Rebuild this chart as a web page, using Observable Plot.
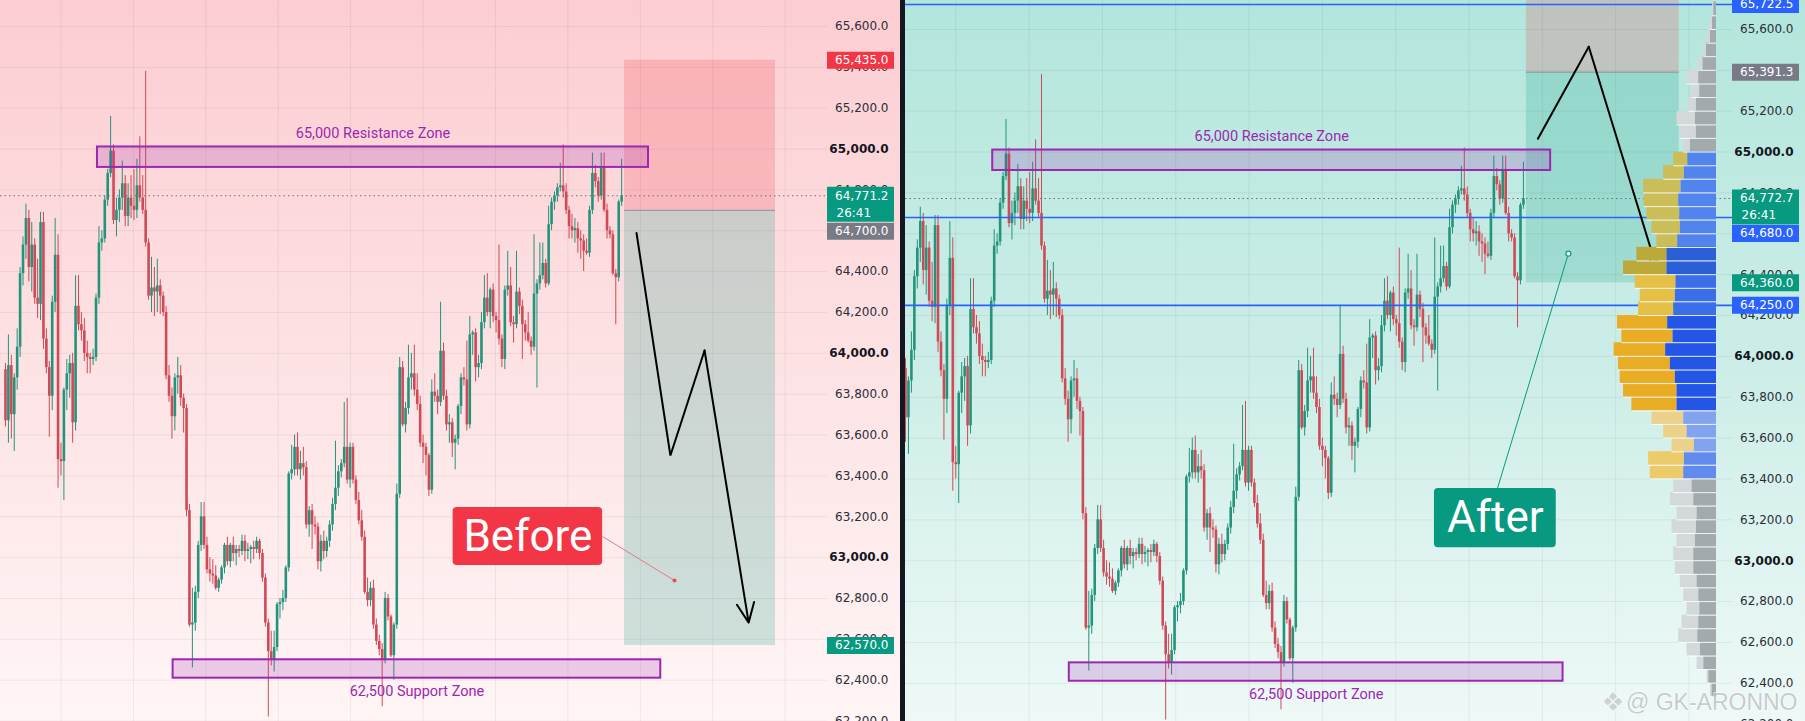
<!DOCTYPE html>
<html><head><meta charset="utf-8">
<script src="https://cdn.jsdelivr.net/npm/d3@7"></script>
<script src="https://cdn.jsdelivr.net/npm/@observablehq/plot@0.6"></script>
<style>
html,body{margin:0;padding:0;background:#fff;overflow:hidden;}
#wrap{display:flex;width:1805px;height:721px;overflow:hidden;}
.panel{position:relative;width:900px;height:721px;overflow:hidden;}
.divider{width:5px;height:721px;background:#131722;}
.panel svg{position:absolute;left:0;top:0;}
</style></head><body>
<div id="wrap"><div class="panel" id="left"></div><div class="divider"></div><div class="panel" id="right"></div></div>
<script>
// ---------- DATA ----------
// candles: [open, high, low, close], one per bar (same series shown in both panels)
const ohlc = [
[63920,63950,63640,63670],[63670,64090,63560,63940],[63940,63990,63580,63700],[63700,63900,63520,63880],
[63880,64120,63820,64030],[64030,64420,63980,64390],[64390,64570,64330,64530],[64530,64730,64460,64660],
[64660,64700,64350,64420],[64420,64640,64300,64530],[64530,64560,64240,64270],[64270,64460,64170,64240],
[64240,64690,64160,64640],[64640,64690,64020,64070],[64070,64120,63900,63930],[63930,63960,63590,63790],
[63790,64280,63720,64250],[64250,64660,64200,64480],[64480,64580,63340,63480],[63480,63560,63400,63470],
[63470,63830,63280,63820],[63820,63970,63720,63900],[63900,63990,63780,63950],[63950,64000,63560,63660],
[63660,64380,63620,64230],[64230,64380,64110,64140],[64140,64200,64060,64110],[64110,64170,63960,64000],
[64000,64060,63900,63980],[63980,64000,63900,63970],[63970,64020,63940,63980],[63980,64290,63960,64270],
[64270,64620,64240,64540],[64540,64600,64500,64560],[64560,64770,64540,64750],[64750,64900,64720,64880],
[64880,65160,64860,64990],[64990,65020,64630,64650],[64650,64760,64570,64700],[64700,64800,64640,64760],
[64760,64940,64700,64830],[64830,64870,64620,64670],[64670,64830,64620,64760],[64760,64870,64660,64720],
[64720,64900,64650,64700],[64700,64950,64660,64820],[64820,65060,64740,64760],[64760,64870,64680,64700],
[64700,65380,64520,64540],[64540,64560,64260,64280],
[64280,64470,64200,64320],[64320,64420,64180,64300],[64300,64460,64200,64330],[64330,64360,64190,64280],
[64280,64300,64180,64200],[64200,64230,63870,63890],[63890,63940,63760,63790],[63790,63830,63580,63690],
[63690,63900,63620,63880],[63880,63980,63800,63890],[63890,63940,63740,63780],[63780,63800,63610,63730],
[63730,63750,63200,63230],[63230,63260,62660,62670],[62670,62850,62460,62680],[62680,62860,62640,62830],
[62830,63080,62800,63060],[63060,63270,63030,63200],[63200,63270,63040,63060],[63060,63100,62920,62940],
[62940,63000,62880,62920],[62920,62990,62870,62910],[62910,62960,62840,62850],[62850,62900,62830,62890],
[62890,62960,62870,62950],[62950,63070,62920,63060],[63060,63100,62960,62980],[62980,63070,62950,63060],
[63060,63100,62980,63020],[63020,63060,62960,63040],[63040,63060,63000,63030],[63030,63110,63010,63080],
[63080,63110,62980,63030],[63030,63070,62990,63040],[63040,63060,62970,63050],[63050,63080,62990,63040],
[63040,63100,63020,63080],[63080,63090,62990,63020],[63020,63040,62880,62900],[62900,62920,62660,62680],
[62680,62700,62220,62540],[62540,62640,62470,62500],[62500,62640,62440,62560],[62560,62780,62540,62770],
[62770,62800,62700,62780],[62780,62840,62740,62800],[62800,62960,62780,62950],[62950,63420,62930,63410],
[63410,63550,63380,63430],[63430,63600,63400,63540],
[63540,63610,63400,63430],[63430,63520,63380,63460],[63460,63540,63400,63440],[63440,63470,63140,63160],
[63160,63250,63100,63230],[63230,63260,63040,63160],[63160,63200,63110,63150],[63150,63170,62940,62980],
[62980,63110,62930,63080],[63080,63130,62990,63030],[63030,63100,63000,63080],[63080,63180,63050,63160],
[63160,63290,63130,63260],[63260,63570,63230,63340],[63340,63450,63300,63420],[63420,63480,63390,63460],
[63460,63760,63440,63540],[63540,63780,63360,63380],[63380,63560,63340,63540],[63540,63560,63360,63380],
[63380,63400,63260,63280],[63280,63320,63160,63180],[63180,63230,63080,63100],[63100,63130,62820,62830],
[62830,62900,62760,62790],[62790,62880,62760,62850],[62850,62890,62650,62670],[62670,62700,62570,62590],
[62590,62620,62520,62550],[62550,62580,62270,62500],[62500,62830,62480,62800],[62800,62820,62690,62710],
[62710,62720,62510,62520],[62520,62680,62400,62670],[62670,63360,62650,63310],[63310,63980,63290,63930],
[63930,63960,63640,63650],[63650,63760,63610,63730],[63730,64040,63700,63880],[63880,64000,63820,63900],
[63900,64040,63790,63820],[63820,63900,63720,63750],[63750,63790,63540,63560],[63560,63600,63460,63540],
[63540,63560,63400,63500],[63500,63510,63300,63330],[63330,63870,63310,63810],[63810,63900,63760,63790],
[63790,63820,63700,63760],[63760,64250,63740,64010],[64010,64050,63770,63790],[63790,63820,63620,63650],
[63650,63700,63560,63660],[63660,63680,63490,63560],[63560,63600,63430,63580],[63580,63750,63550,63740],
[63740,63900,63700,63880],[63880,63930,63840,63870],[63870,64060,63620,63650],[63650,64180,63630,64090],
[64090,64110,63990,64100],[64100,64120,63860,63930],[63930,63990,63880,63950],[63950,64200,63920,64150],
[64150,64380,64120,64270],[64270,64390,64180,64200],[64200,64320,64120,64310],[64310,64340,64150,64180],
[64180,64200,64100,64160],[64160,64530,64040,64070],[64070,64090,63930,63970],[63970,64330,63920,64310],
[64310,64500,64280,64330],[64330,64420,64130,64150],[64150,64180,64050,64140],[64140,64500,64120,64300],
[64300,64320,64190,64230],[64230,64260,63970,64140],[64140,64160,64060,64100],[64100,64200,64050,64060],
[64060,64080,63990,64030],[64030,64580,64010,64290],[64290,64360,63830,64340],[64340,64540,64310,64380],
[64380,64540,64360,64440],[64440,64460,64320,64340],[64340,64720,64330,64630],[64630,64760,64600,64740],
[64740,64790,64700,64770],[64770,64830,64740,64810],[64810,64930,64790,64820],[64820,65020,64760,64790],
[64790,64830,64680,64700],[64700,64720,64560,64620],[64620,64680,64560,64600],[64600,64660,64540,64610],
[64610,64640,64490,64560],[64560,64600,64460,64550],[64550,64580,64400,64500],[64500,64560,64480,64490],
[64490,64720,64470,64700],[64700,64980,64680,64880],[64880,64920,64810,64840],[64840,64860,64740,64770],
[64770,64980,64750,64910],[64910,64980,64690,64700],[64700,64730,64560,64600],[64600,64620,64560,64580],
[64580,64600,64380,64390],[64390,64410,64140,64370],[64370,64750,64350,64740],[64740,64950,64720,64771]
];

// price axis ticks
const yTicks = [62200,62400,62600,62800,63000,63200,63400,63600,63800,64000,64200,64400,64600,64800,65000,65200,65400,65600];
// time grid (bar index)
const timeGrid = [19,43.8,68.6,93.4,118.2,143,167.8,192.6,217.4,242.2,267];

// zones (bar index range, price range)
const resistanceZone = {i1: 31.5, i2: 220.2, p1: 64910, p2: 65010, label: "65,000 Resistance Zone"};
const supportZone = {i1: 57.4, i2: 224.4, p1: 62410, p2: 62500, label: "62,500 Support Zone"};

// position tools
const leftPosition = {i1: 212, i2: 263.7, stop: 65435, entry: 64700, target: 62570};
const rightPosition = {i1: 212, i2: 263.7, stop: 65760, entry: 65391.3, target: 64360};

// projected paths
const leftPath = [{i: 216.1, p: 64589}, {i: 227.7, p: 63500}, {i: 239.4, p: 64014}, {i: 254.5, p: 62682}];
const rightPath = [{i: 215.9, p: 65065}, {i: 233.1, p: 65516}, {i: 256.0, p: 64436}];

// callouts
const beforeLabel = {text: "Before", i1: 153.3, i2: 204.5, p1: 62961, p2: 63245, pointI: 229.1, pointP: 62888};
const afterLabel = {text: "After", i1: 180.9, i2: 222.1, p1: 63064, p2: 63353, pointI: 226.2, pointP: 64503, anchorI: 202.2};

// axis price tags
const leftTags = [
  {price: 65435.0, label: "65,435.0", kind: "stop"},
  {price: 64771.2, label: "64,771.2", sub: "26:41", kind: "last"},
  {price: 64700.0, label: "64,700.0", kind: "entry", shift: 21},
  {price: 62570.0, label: "62,570.0", kind: "target"}
];
const rightTags = [
  {price: 65722.5, label: "65,722.5", kind: "line"},
  {price: 65391.3, label: "65,391.3", kind: "entry"},
  {price: 64772.7, label: "64,772.7", sub: "26:41", kind: "last"},
  {price: 64680.0, label: "64,680.0", kind: "line", shift: 16},
  {price: 64360.0, label: "64,360.0", kind: "target"},
  {price: 64250.0, label: "64,250.0", kind: "line"}
];
const rightLines = [65722.5, 64680.0, 64250.0];
const leftLast = 64771.2, rightLast = 64772.7;

// volume profile (right panel): bin low price, total volume, up volume
const profileLow = [65667,65600,65533,65467,65400,65333,65267,65200,65133,65067,65000,
  64933,64867,64800,64733,64667,64600,64533,64467,64400,64333,64267,64200,64133,64067,64000,63933,63867,63800,63733,63667,63600,63533,63467,63400,
  63333,63267,63200,63133,63067,63000,62933,62867,62800,62733,62667,62600,62533,62467,62400,62333];
const profileTotal = [12,18,28,38,55,88,73,83,118,108,98,
  128,158,218,216,208,193,178,238,278,243,228,233,296,283,306,293,288,278,253,193,158,133,203,198,
  128,138,118,133,118,128,123,108,98,88,103,113,88,58,28,18];
const profileUp = [8,12,18,30,40,53,50,60,63,60,78,
  86,96,106,113,110,108,116,148,148,121,123,128,146,130,152,138,123,118,118,98,88,66,96,98,
  73,68,58,60,63,68,68,58,53,50,53,56,48,38,23,13];
const profileBin = 66.7;

// ---------- STYLE ----------
const GREEN = "#23937a", RED = "#cf4a56";
const TAG = {stop: "#f23645", last: "#089981", entry: "#787b86", target: "#089981", line: "#2962ff"};
const FONT = "DejaVu Sans";

const candles = ohlc.map(([o, h, l, c], i) => ({i, o, h, l, c, col: c >= o ? GREEN : RED}));
const fmt = d3.format(",.1f");

function tagMarks(tags) {
  const m = [];
  for (const t of tags) {
    const s = t.shift || 0;
    m.push(Plot.ruleY([t], {y: "price", stroke: TAG[t.kind], strokeWidth: t.sub ? 35 : 17, insetLeft: 827, insetRight: 6, dy: s + (t.sub ? 8.5 : 0)}));
    m.push(Plot.text([t], {y: "price", text: "label", frameAnchor: "right", textAnchor: "end", dx: -12, dy: s, fill: "white", fontSize: 12, fontFamily: FONT}));
    if (t.sub) m.push(Plot.text([t], {y: "price", text: "sub", frameAnchor: "right", textAnchor: "start", dx: -64, dy: 17, fill: "white", fontSize: 12, fontFamily: FONT}));
  }
  return m;
}

function commonMarks(pos, last) {
  return [
    Plot.ruleX(timeGrid, {stroke: "rgba(0,0,0,0.06)"}),
    Plot.ruleY(yTicks, {stroke: "rgba(0,0,0,0.06)", insetRight: 73}),
    // position tool
    Plot.rect([pos], {x1: "i1", x2: "i2", y1: "entry", y2: "stop", fill: "rgba(242,54,69,0.2)"}),
    Plot.rect([pos], {x1: "i1", x2: "i2", y1: "target", y2: "entry", fill: "rgba(8,153,129,0.2)"}),
    Plot.ruleY([pos], {y: "entry", x1: "i1", x2: "i2", stroke: "#8d8f97", strokeWidth: 1}),
    // candles
    Plot.ruleX(candles, {x: "i", y1: "l", y2: "h", stroke: "col", strokeWidth: 1}),
    Plot.ruleX(candles, {x: "i", y1: "o", y2: "c", stroke: "col", strokeWidth: 2.6}),
    // zones
    Plot.rect([resistanceZone, supportZone], {x1: "i1", x2: "i2", y1: "p1", y2: "p2", fill: "rgba(156,39,176,0.2)", stroke: "#9c27b0", strokeWidth: 2}),
    Plot.text([resistanceZone], {x: d => (d.i1 + d.i2) / 2, y: "p2", dy: -14, text: "label", fill: "#9c27b0", fontSize: 14.5, fontFamily: "Roboto"}),
    Plot.text([supportZone], {x: d => (d.i1 + d.i2) / 2, y: "p1", dy: 13, text: "label", fill: "#9c27b0", fontSize: 14.5, fontFamily: "Roboto"}),
    // last price dotted line
    Plot.ruleY([last], {stroke: "#6b6f7a", strokeDasharray: "1.5,3", insetRight: 73}),
    // axis labels
    Plot.text(yTicks.filter(d => d % 1000 !== 0), {y: d => d, text: d => fmt(d), frameAnchor: "right", textAnchor: "end", dx: -12, fill: "#2a2e39", fontSize: 12, fontFamily: FONT}),
    Plot.text(yTicks.filter(d => d % 1000 === 0), {y: d => d, text: d => fmt(d), frameAnchor: "right", textAnchor: "end", dx: -12, fill: "#131722", fontSize: 12, fontWeight: "bold", fontFamily: FONT})
  ];
}

// ---------- LEFT PANEL ----------
const leftPlot = Plot.plot({
  width: 900, height: 721, margin: 0,
  x: {domain: [-1.71, 306.5], axis: null},
  y: {domain: [62198, 65727], axis: null},
  color: {type: "identity"},
  style: {background: "linear-gradient(to bottom, #fccdd1 0%, #fde2e4 50%, #fff5f5 100%)", overflow: "hidden"},
  marks: [
    ...commonMarks(leftPosition, leftLast),
    Plot.line(leftPath.slice(0, 3), {x: "i", y: "p", stroke: "black", strokeWidth: 2, strokeLinejoin: "miter"}),
    Plot.arrow([{a: leftPath[2], b: leftPath[3]}], {x1: d => d.a.i, y1: d => d.a.p, x2: d => d.b.i, y2: d => d.b.p, stroke: "black", strokeWidth: 2, headLength: 16, headAngle: 48}),
    Plot.link([beforeLabel], {x1: "i2", y1: d => (d.p1 + d.p2) / 2, x2: "pointI", y2: "pointP", stroke: "#e07b84", strokeWidth: 1}),
    Plot.dot([beforeLabel], {x: "pointI", y: "pointP", r: 2, fill: "#e04f5f"}),
    Plot.rect([beforeLabel], {x1: "i1", x2: "i2", y1: "p1", y2: "p2", fill: "#f23645", rx: 4}),
    Plot.text([beforeLabel], {x: d => (d.i1 + d.i2) / 2, y: d => (d.p1 + d.p2) / 2, text: "text", fill: "white", fontSize: 44, fontFamily: "Roboto"}),
    ...tagMarks(leftTags)
  ]
});
document.getElementById("left").appendChild(leftPlot);

// ---------- RIGHT PANEL ----------
const rightY = [62213, 65742];
const rightPlot = Plot.plot({
  width: 900, height: 721, margin: 0,
  x: {domain: [2.0, 306.4], axis: null},
  y: {domain: rightY, axis: null},
  color: {type: "identity"},
  style: {background: "linear-gradient(to bottom, #b2e6dc 0%, #ccede7 50%, #eef9f7 100%)", overflow: "hidden"},
  marks: [
    ...commonMarks(rightPosition, rightLast),
    Plot.ruleY(rightLines, {stroke: "#2962ff", strokeWidth: 1.6, insetRight: 73}),
    Plot.line(rightPath.slice(0, 2), {x: "i", y: "p", stroke: "black", strokeWidth: 2}),
    Plot.arrow([{a: rightPath[1], b: rightPath[2]}], {x1: d => d.a.i, y1: d => d.a.p, x2: d => d.b.i, y2: d => d.b.p, stroke: "black", strokeWidth: 2, headLength: 16, headAngle: 48}),
    ...tagMarks(rightTags)
  ]
});
document.getElementById("right").appendChild(rightPlot);

// volume profile + watermark overlay
const profile = profileLow.map((low, k) => ({low, high: low + profileBin, total: profileTotal[k], up: profileUp[k]}));
function upColor(d) {
  if (d.low >= 65000 || d.low < 63400) return "#a2aaad";
  if (d.low >= 64533) return "#5284ee";
  if (d.low >= 64400) return "#2a5fd6";
  if (d.low >= 64200) return "#3b6fe9";
  if (d.low >= 63733) return "#2356e6";
  if (d.low >= 63533) return "#82a3f0";
  return "#628bee";
}
function downColor(d) {
  if (d.low >= 65000 || d.low < 63400) return "#d3d9db";
  if (d.low >= 64533) return "#cbbd58";
  if (d.low >= 64400) return "#bba93a";
  if (d.low >= 64200) return "#e6bf47";
  if (d.low >= 63733) return "#e8ad25";
  if (d.low >= 63533) return "#ebd18a";
  return "#eccb6a";
}
const overlay = Plot.plot({
  width: 900, height: 721, margin: 0,
  x: {domain: [0, 308], range: [811, 708], axis: null},
  y: {domain: rightY, axis: null},
  color: {type: "identity"},
  style: {background: "transparent", overflow: "hidden"},
  marks: [
    Plot.rect(profile, {x1: "up", x2: "total", y1: "low", y2: "high", fill: downColor}),
    Plot.rect(profile, {x1: d => 0, x2: "up", y1: "low", y2: "high", fill: upColor}),
    Plot.ruleY(profile, {y: "low", x1: d => 0, x2: "total", stroke: "white", strokeOpacity: 0.85, strokeWidth: 1}),
    Plot.text(["@ GK-ARONNO"], {frameAnchor: "bottom-right", textAnchor: "end", dx: -8, dy: -12, fontSize: 23, fontFamily: "Liberation Sans", fill: "rgba(150,155,160,0.5)", stroke: "white", strokeWidth: 0.8}),
    Plot.text(["\u2756"], {frameAnchor: "bottom-right", textAnchor: "end", dx: -181, dy: -11, fontSize: 26, fontFamily: "DejaVu Sans", fill: "rgba(160,165,170,0.45)", stroke: "white", strokeWidth: 0.8})
  ]
});
document.getElementById("right").appendChild(overlay);

// "After" callout drawn in right-panel scales (on top of profile)
const calloutPlot = Plot.plot({
  width: 900, height: 721, margin: 0,
  x: {domain: [2.0, 306.4], axis: null},
  y: {domain: rightY, axis: null},
  style: {background: "transparent", overflow: "hidden"},
  marks: [
    Plot.link([afterLabel], {x1: "anchorI", y1: "p2", x2: "pointI", y2: "pointP", stroke: "#089981", strokeWidth: 1}),
    Plot.dot([afterLabel], {x: "pointI", y: "pointP", r: 2.5, fill: "white", stroke: "#089981", strokeWidth: 1.2}),
    Plot.rect([afterLabel], {x1: "i1", x2: "i2", y1: "p1", y2: "p2", fill: "#089981", rx: 4}),
    Plot.text([afterLabel], {x: d => (d.i1 + d.i2) / 2, y: d => (d.p1 + d.p2) / 2, text: "text", fill: "white", fontSize: 44, fontFamily: "Roboto"})
  ]
});
document.getElementById("right").appendChild(calloutPlot);
</script>
</body></html>
